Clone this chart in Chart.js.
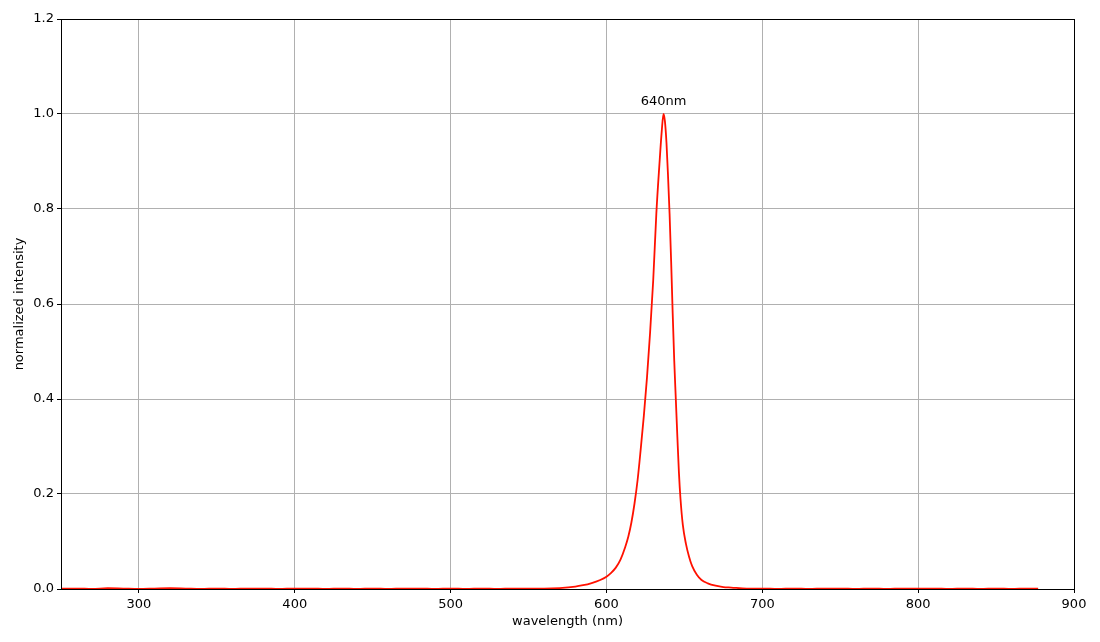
<!DOCTYPE html>
<html>
<head>
<meta charset="utf-8">
<script src="https://cdn.jsdelivr.net/npm/chart.js@4.4.1/dist/chart.umd.min.js"></script>
<style>
  html, body { margin: 0; padding: 0; background: #fff; }
  #wrap { width: 1100px; height: 642px; position: relative; }
</style>
</head>
<body>
<div id="wrap"><canvas id="spectrum" width="1100" height="642"></canvas></div>
<script>
// spectrum (nm, normalized)
const wavelengths = [
  250, 260, 270, 280, 290, 300, 310, 320, 330, 340, 350, 360, 370, 380, 390, 400,
  410, 420, 430, 440, 450, 460, 470, 480, 490, 500, 510, 520, 530, 540, 550, 560,
  570, 580, 585, 590, 596, 600, 603, 606, 609, 612, 614, 616, 618, 620, 622, 624,
  626, 628, 630, 632, 634, 635.5, 636.6, 637.5, 638.5, 639.5, 640.5, 641.5, 642.5, 643.5, 644.5,
  645.5, 646.5, 647.5, 649, 651, 653, 655, 658, 661, 665, 670, 675, 680, 690, 700,
  710, 720, 730, 740, 750, 760, 770, 780, 790, 800, 810, 820, 830, 840, 850, 860, 870, 877
];
const intensity = [
  0.001, 0.001, 0.000, 0.002, 0.001, 0.000, 0.001, 0.002, 0.001, 0.000, 0.001, 0.000, 0.001, 0.001, 0.000, 0.001,
  0.001, 0.000, 0.001, 0.000, 0.001, 0.000, 0.001, 0.001, 0.000, 0.001, 0.000, 0.001, 0.000, 0.001, 0.001, 0.001,
  0.002, 0.005, 0.008, 0.012, 0.019, 0.026, 0.034, 0.045, 0.062, 0.088, 0.110, 0.140, 0.180, 0.230, 0.295, 0.365,
  0.445, 0.540, 0.650, 0.790, 0.895, 0.965, 1.000, 0.985, 0.940, 0.870, 0.790, 0.690, 0.580, 0.480, 0.400,
  0.320, 0.245, 0.190, 0.135, 0.095, 0.068, 0.048, 0.030, 0.019, 0.012, 0.007, 0.004, 0.003, 0.001, 0.001,
  0.000, 0.001, 0.000, 0.001, 0.001, 0.000, 0.001, 0.000, 0.001, 0.001, 0.001, 0.000, 0.001, 0.000, 0.001, 0.000, 0.001, 0.001
];
const xTicks = [300, 400, 500, 600, 700, 800, 900];
const yTicks = [0, 0.2, 0.4, 0.6, 0.8, 1.0, 1.2];
const peakLabel = '640nm';
const peakAt = [636.6, 1.027];

const FONT = 'DejaVu Sans';

// box around the plot + peak annotation
const framePlugin = {
  id: 'frame',
  afterDatasetsDraw(chart){
    const {ctx, chartArea: a, scales} = chart;
    ctx.save();
    ctx.strokeStyle = '#000';
    ctx.lineWidth = 1;
    ctx.strokeRect(Math.round(a.left) + 0.5, Math.round(a.top) + 0.5,
      Math.round(a.right - a.left), Math.round(a.bottom - a.top));
    ctx.fillStyle = '#000';
    ctx.font = '13px "' + FONT + '"';
    ctx.textAlign = 'center';
    ctx.textBaseline = 'middle';
    ctx.fillText(peakLabel, scales.x.getPixelForValue(peakAt[0]), scales.y.getPixelForValue(peakAt[1]));
    ctx.restore();
  }
};

new Chart(document.getElementById('spectrum'), {
  type: 'line',
  data: {
    datasets: [{
      data: wavelengths.map((w, i) => ({x: w, y: intensity[i]})),
      borderColor: '#ff1100',
      borderWidth: 1.8,
      pointRadius: 0,
      cubicInterpolationMode: 'monotone',
      fill: false
    }]
  },
  options: {
    responsive: false,
    animation: false,
    devicePixelRatio: 1,
    layout: {padding: {left: 12, right: 26, top: 19, bottom: 13}},
    plugins: {legend: {display: false}, tooltip: {enabled: false}},
    scales: {
      x: {
        type: 'linear', min: 250, max: 900,
        afterBuildTicks: s => { s.ticks = xTicks.map(v => ({value: v})); },
        afterFit: s => { s.height = 40; },
        grid: {color: '#b0b0b0', lineWidth: 1, tickColor: '#000', tickLength: 4, drawOnChartArea: true},
        border: {color: '#000', width: 1},
        ticks: {color: '#000', font: {family: FONT, size: 13}, padding: 4, maxRotation: 0, autoSkip: false},
        title: {display: true, text: 'wavelength (nm)', color: '#000', font: {family: FONT, size: 13}, padding: {top: 2, bottom: 0}}
      },
      y: {
        type: 'linear', min: 0, max: 1.2,
        afterBuildTicks: s => { s.ticks = yTicks.map(v => ({value: v})); },
        afterFit: s => { s.width = 49; },
        grid: {color: '#b0b0b0', lineWidth: 1, tickColor: '#000', tickLength: 4},
        border: {color: '#000', width: 1},
        ticks: {color: '#000', font: {family: FONT, size: 13}, padding: 3, autoSkip: false, callback: v => v.toFixed(1)},
        title: {display: true, text: 'normalized intensity', color: '#000', font: {family: FONT, size: 13}, padding: {top: 0, bottom: 0}}
      }
    }
  },
  plugins: [framePlugin]
});
</script>
</body>
</html>
